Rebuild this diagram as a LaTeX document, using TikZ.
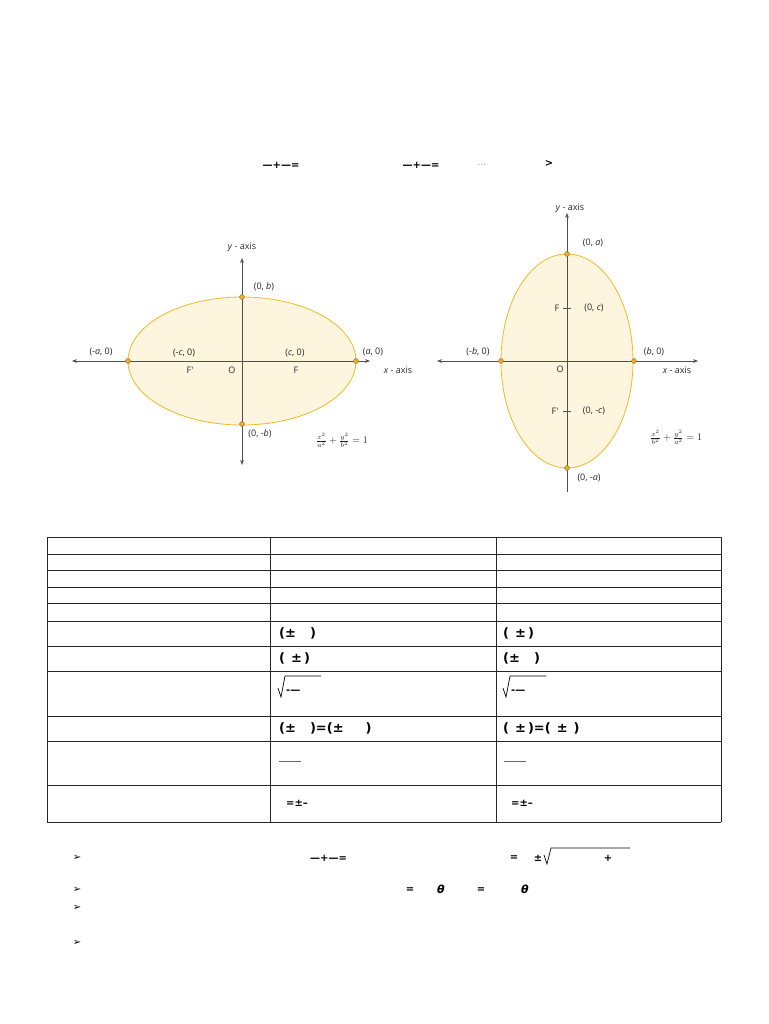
\documentclass[tikz,border=0pt]{standalone}
\usepackage{fontspec}
\setmainfont{DejaVu Sans}
\newfontfamily\lab{Open Sans}
\usetikzlibrary{arrows.meta}
\definecolor{ellfill}{RGB}{253,245,222}
\definecolor{elldraw}{RGB}{240,185,40}
\definecolor{dotc}{RGB}{245,170,30}
\definecolor{axc}{RGB}{80,80,80}
\begin{document}
\begin{tikzpicture}[x=1pt,y=-1pt,
  lbl/.style={font=\lab\fontsize{9}{10}\selectfont, inner sep=1pt, text=black!85},
  pt/.style={circle, fill=dotc, draw=black!60, line width=0.3pt, inner sep=0pt, minimum size=5pt},
  ax/.style={draw=axc, line width=0.6pt},
  frag/.style={font=\fontsize{10}{11}\selectfont\bfseries, inner sep=0pt},
  tab/.style={draw=black!85, line width=0.8pt}]
\useasboundingbox (0,0) rectangle (768,1024);
% top fragments
\node[frag] (t1) at (281,165) {—+—=};
\node[frag] (t2) at (421,165) {—+—=};
\node[font=\fontsize{9}{10}\selectfont, text=black!40] (t3) at (482,165) {...};
\node[frag] (t4) at (549,164) {>};
% left ellipse
\draw[fill=ellfill, draw=elldraw, line width=0.8pt] (242,361) ellipse [x radius=114, y radius=64];
\coordinate (lxl) at (72,361); \coordinate (lxr) at (370,361);
\coordinate (lyt) at (242,258); \coordinate (lyb) at (242,465);
\draw[ax, {Stealth[length=5pt]}-{Stealth[length=5pt]}] (lxl) -- (lxr);
\draw[ax, {Stealth[length=5pt]}-{Stealth[length=5pt]}] (lyb) -- (lyt);
\node[pt] (la) at (356,361) {}; \node[pt] (lma) at (128,361) {};
\node[pt] (lb) at (242,297) {}; \node[pt] (lmb) at (242,424) {};
\node[lbl] at (242,247) {\textit{y} - axis};
\node[lbl] at (398,370) {\textit{x} - axis};
\node[lbl] at (264,287) {(0, \textit{b})};
\node[lbl] at (260,434) {(0, -\textit{b})};
\node[lbl] at (101,352) {(-\textit{a}, 0)};
\node[lbl] at (373,352) {(\textit{a}, 0)};
\node[lbl] at (184,353) {(-\textit{c}, 0)};
\node[lbl] at (295,353) {(\textit{c}, 0)};
\node[lbl] at (190,370) {F'};
\node[lbl] at (232,370) {O};
\node[lbl] at (296,370) {F};
\node[lbl, font=\lab\fontsize{10}{11}\selectfont] at (342,440) {$\frac{x^2}{a^2}+\frac{y^2}{b^2}=1$};
% right ellipse
\draw[fill=ellfill, draw=elldraw, line width=0.8pt] (567,361) ellipse [x radius=66, y radius=107];
\coordinate (rxl) at (437,361); \coordinate (rxr) at (698,361);
\coordinate (ryt) at (567,213); \coordinate (ryb) at (567,492);
\draw[ax, {Stealth[length=5pt]}-{Stealth[length=5pt]}] (rxl) -- (rxr);
\draw[ax, -{Stealth[length=5pt]}] (ryb) -- (ryt);
\node[pt] (ra) at (567,254) {}; \node[pt] (rma) at (567,468) {};
\node[pt] (rb) at (634,361) {}; \node[pt] (rmb) at (501,361) {};
\draw[ax] (563,308) -- (571,308); \draw[ax] (563,411) -- (571,411);
\node[lbl] at (570,208) {\textit{y} - axis};
\node[lbl] at (677,370) {\textit{x} - axis};
\node[lbl] at (593,243) {(0, \textit{a})};
\node[lbl] at (589,478) {(0, -\textit{a})};
\node[lbl] at (478,352) {(-\textit{b}, 0)};
\node[lbl] at (654,352) {(\textit{b}, 0)};
\node[lbl] at (557,308) {F};
\node[lbl] at (594,308) {(0, \textit{c})};
\node[lbl] at (555,411) {F'};
\node[lbl] at (594,411) {(0, -\textit{c})};
\node[lbl] at (560,369) {O};
\node[lbl, font=\lab\fontsize{10}{11}\selectfont] at (676,437) {$\frac{x^2}{b^2}+\frac{y^2}{a^2}=1$};
% table
\foreach \y in {537,554,570,587,603,621,646,671,716,741,785,822} \draw[tab] (47,\y) -- (721,\y);
\foreach \x in {47,270,496,721} \draw[tab] (\x,537) -- (\x,822);
\tikzset{cell/.style={anchor=west, inner sep=0pt, font=\fontsize{13}{14}\selectfont\bfseries}}
\node[cell] at (279,633) {(±\hspace{14pt})};
\node[cell] at (503,633) {(\hspace{6pt}±\hspace{2pt})};
\node[cell] at (279,658) {(\hspace{6pt}±\hspace{2pt})};
\node[cell] at (503,658) {(±\hspace{14pt})};
\node[cell] at (279,728) {(±\hspace{14pt})=(±\hspace{22pt})};
\node[cell] at (503,728) {(\hspace{6pt}±\hspace{2pt})=(\hspace{6pt}±\hspace{6pt})};
\foreach \x in {281,506}{
  \draw[line width=0.7pt] (\x-3,688) -- (\x,697) -- (\x+4,676) -- (\x+40,676);
  \node[font=\fontsize{10}{11}\selectfont\bfseries, anchor=west, inner sep=0pt] at (\x+5,692) {-—};
  \draw[black!60, line width=0.6pt] (\x-2,761) -- (\x+20,761);
  \node[font=\fontsize{10}{11}\selectfont\bfseries, anchor=west, inner sep=0pt] at (\x+5,803) {=±–};
}
% bullets
\foreach \y in {858,890,908,943} \node[font=\fontsize{10}{11}\selectfont] at (77,\y) {➢};
\node[frag, anchor=west] at (310,858) {—+—=};
\node[frag] at (514,858) {=};
\node[frag] at (538,858) {±};
\draw[line width=0.7pt] (544,855) -- (547,864) -- (551,848) -- (630,848);
\node[frag] at (608,858) {+};
\node[frag] at (410,890) {=};
\node[font=\fontsize{11}{12}\selectfont\bfseries\itshape] at (441,889) {θ};
\node[frag] at (481,890) {=};
\node[font=\fontsize{11}{12}\selectfont\bfseries\itshape] at (525,889) {θ};
\end{tikzpicture}
\end{document}
